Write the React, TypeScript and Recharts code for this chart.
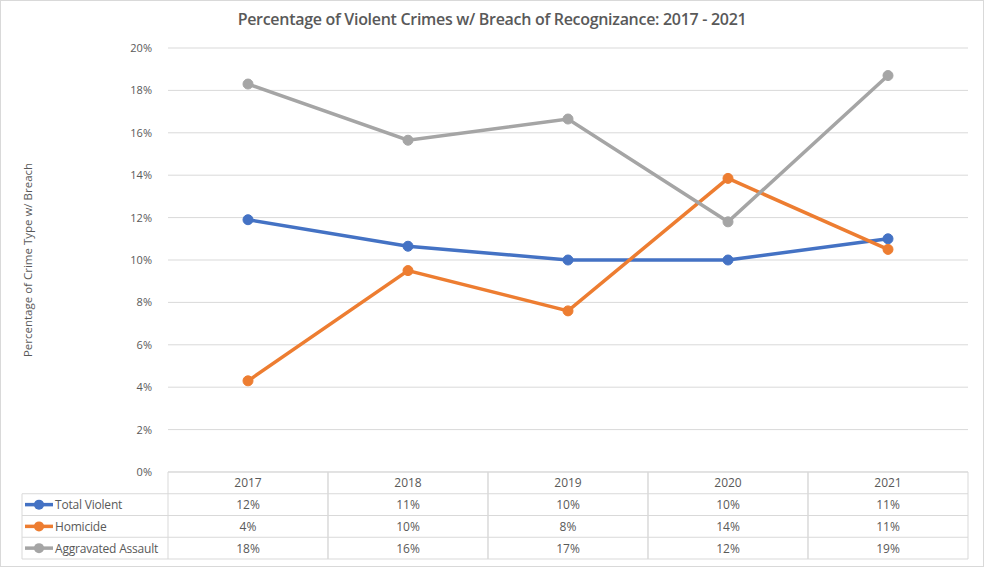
import React from 'react';
import { LineChart, Line, XAxis, YAxis, CartesianGrid } from 'recharts';

const years = ['2017', '2018', '2019', '2020', '2021'];
const totalViolent = [11.9, 10.65, 10.0, 10.0, 11.0];
const homicide = [4.3, 9.5, 7.6, 13.85, 10.5];
const aggravatedAssault = [18.3, 15.65, 16.65, 11.8, 18.7];
const yTicks = [0, 2, 4, 6, 8, 10, 12, 14, 16, 18, 20];

const seriesInfo = [
  { key: 'totalViolent', name: 'Total Violent', color: '#4472C4', values: totalViolent },
  { key: 'homicide', name: 'Homicide', color: '#ED7D31', values: homicide },
  { key: 'aggravatedAssault', name: 'Aggravated Assault', color: '#A5A5A5', values: aggravatedAssault },
];

const data = years.map((year, i) => ({
  year,
  totalViolent: totalViolent[i],
  homicide: homicide[i],
  aggravatedAssault: aggravatedAssault[i],
}));

const W = 984;
const H = 567;
const PLOT_LEFT = 168;
const PLOT_RIGHT = 968;
const BAND = (PLOT_RIGHT - PLOT_LEFT) / years.length;
const ROW_H = 21.75;
const LABEL_LEFT = 22;
const FONT = '"Open Sans", "Noto Sans", sans-serif';
const TEXT = '#595959';
const GRID = '#D9D9D9';

const TableTick = (props: any) => {
  const { x, y, payload, index } = props;
  const i = index as number;
  const left = x - BAND / 2;
  const right = x + BAND / 2;
  const bottom = y + ROW_H * 4;
  return (
    <g>
      <line x1={left} x2={left} y1={y} y2={bottom} stroke={GRID} strokeWidth={1} />
      <line x1={right} x2={right} y1={y} y2={bottom} stroke={GRID} strokeWidth={1} />
      {[1, 2, 3, 4].map((r) => (
        <line key={r} x1={left} x2={right} y1={y + ROW_H * r} y2={y + ROW_H * r} stroke={GRID} strokeWidth={1} />
      ))}
      <text x={x} y={y + ROW_H * 0.5} textAnchor="middle" dominantBaseline="central" fill={TEXT} fontSize={12} fontFamily={FONT}>
        {payload.value}
      </text>
      {seriesInfo.map((s, r) => (
        <text key={s.key} x={x} y={y + ROW_H * (r + 1.5)} textAnchor="middle" dominantBaseline="central" fill={TEXT} fontSize={12} fontFamily={FONT}>
          {Math.round(s.values[i])}%
        </text>
      ))}
      {i === 0 && (
        <g>
          <line x1={LABEL_LEFT} x2={LABEL_LEFT} y1={y + ROW_H} y2={bottom} stroke={GRID} strokeWidth={1} />
          {[1, 2, 3, 4].map((r) => (
            <line key={r} x1={LABEL_LEFT} x2={left} y1={y + ROW_H * r} y2={y + ROW_H * r} stroke={GRID} strokeWidth={1} />
          ))}
          {seriesInfo.map((s, r) => {
            const cy = y + ROW_H * (r + 1.5);
            return (
              <g key={s.key}>
                <line x1={25} x2={53} y1={cy} y2={cy} stroke={s.color} strokeWidth={3.5} />
                <circle cx={39} cy={cy} r={5} fill={s.color} />
                <text x={55} y={cy} dominantBaseline="central" fill={TEXT} fontSize={12} letterSpacing={-0.2} fontFamily={FONT}>
                  {s.name}
                </text>
              </g>
            );
          })}
        </g>
      )}
    </g>
  );
};

export default function App() {
  return (
    <div style={{ position: 'absolute', left: 0, top: 0, width: W, height: H, background: '#fff' }}>
      <div
        style={{
          position: 'absolute',
          left: 0,
          top: 0,
          width: W - 2,
          height: H - 2,
          border: `1px solid ${GRID}`,
          pointerEvents: 'none',
        }}
      />
      <div
        style={{
          position: 'absolute',
          left: 0,
          top: 8,
          width: W,
          textAlign: 'center',
          fontFamily: FONT,
          fontSize: 16,
          fontWeight: 600,
          color: TEXT,
          letterSpacing: -0.3,
        }}
      >
        Percentage of Violent Crimes w/ Breach of Recognizance: 2017 - 2021
      </div>
      <LineChart
        width={W}
        height={H}
        data={data}
        margin={{ top: 48, right: W - PLOT_RIGHT, bottom: 0, left: PLOT_LEFT - 60 }}
      >
        <CartesianGrid vertical={false} stroke={GRID} strokeWidth={1} />
        <XAxis
          dataKey="year"
          height={H - 472}
          padding={{ left: BAND / 2, right: BAND / 2 }}
          axisLine={{ stroke: GRID }}
          tickLine={false}
          tickSize={0}
          tickMargin={0}
          interval={0}
          tick={<TableTick />}
        />
        <YAxis
          width={60}
          domain={[0, 20]}
          ticks={yTicks}
          tickFormatter={(v: number) => `${v}%`}
          axisLine={false}
          tickLine={false}
          tickMargin={10}
          tick={{ fill: TEXT, fontSize: 11, fontFamily: FONT }}
          label={{
            value: 'Percentage of Crime Type w/ Breach',
            angle: -90,
            position: 'insideLeft',
            offset: 0,
            dx: -80,
            style: { fill: TEXT, fontSize: 11.5, fontFamily: FONT, textAnchor: 'middle' },
          }}
        />
        {seriesInfo.map((s) => (
          <Line
            key={s.key}
            dataKey={s.key}
            name={s.name}
            stroke={s.color}
            strokeWidth={3.5}
            dot={{ r: 5, fill: s.color, stroke: s.color, strokeWidth: 1 }}
            isAnimationActive={false}
          />
        ))}
      </LineChart>
    </div>
  );
}
